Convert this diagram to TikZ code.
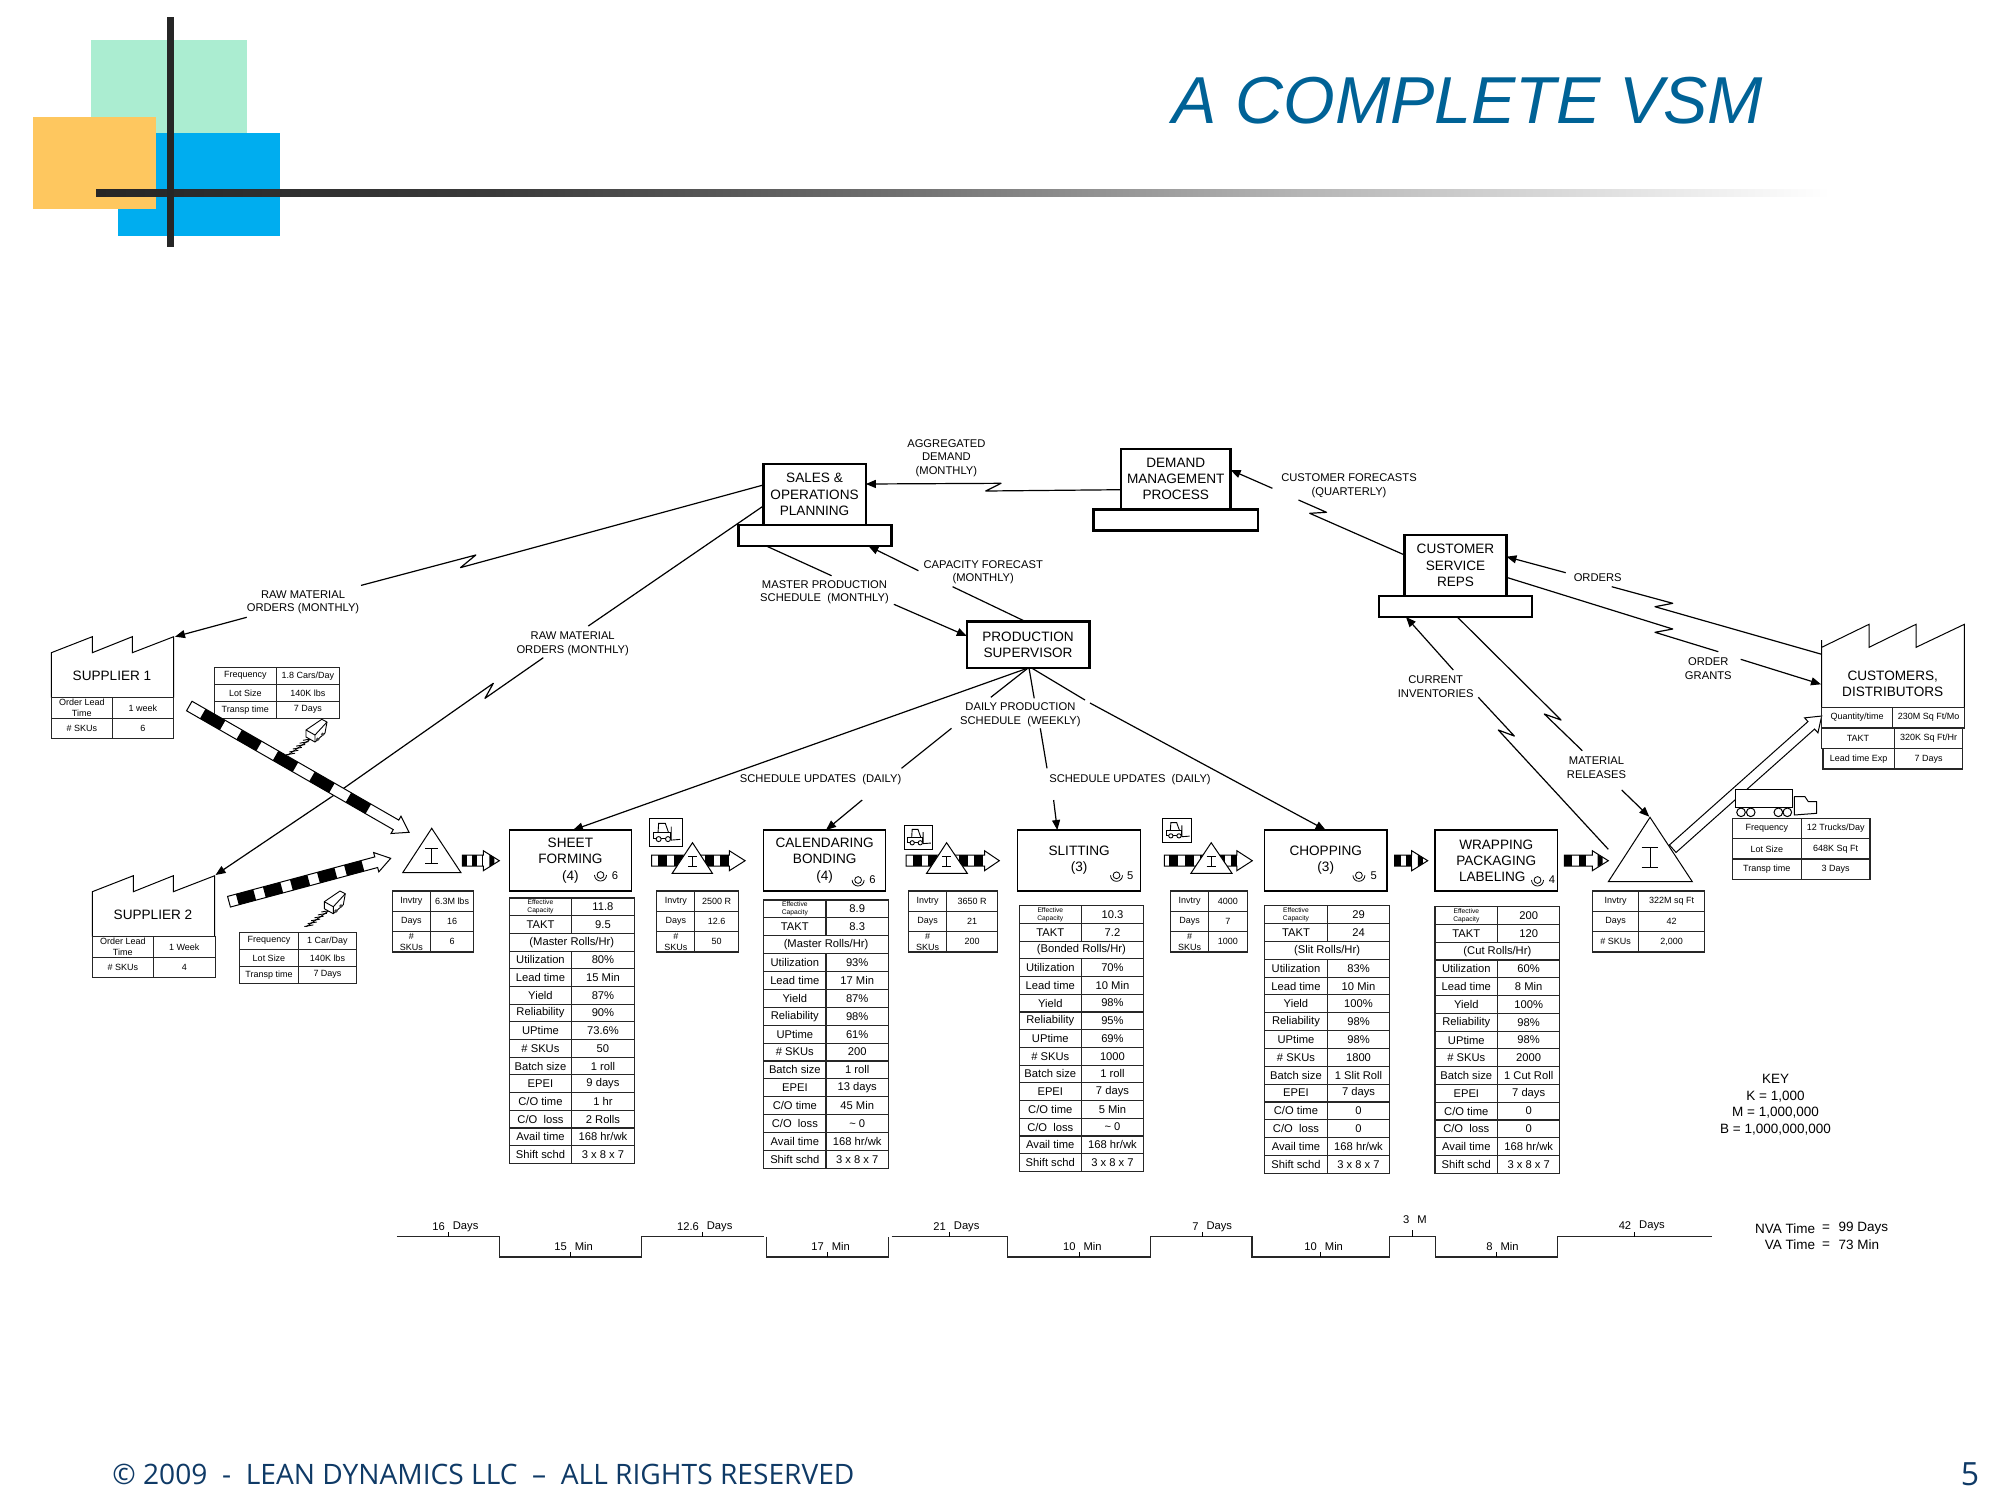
\documentclass[tikz,border=0pt]{standalone}
\usepackage{fontspec}
\setmainfont{Liberation Sans}
\newfontfamily\footfont{Open Sans}
\usetikzlibrary{calc,arrows.meta}
\definecolor{titleblue}{HTML}{006296}
\definecolor{footblue}{HTML}{0F3A66}
\definecolor{mint}{HTML}{ABEDD1}
\definecolor{skyb}{HTML}{00ADEF}
\definecolor{orangey}{HTML}{FEC75F}
\definecolor{bardark}{HTML}{262626}
\pgfdeclarehorizontalshading{barfade}{100bp}{color(0bp)=(bardark);color(25bp)=(bardark);color(36.6bp)=(black!77);color(48.2bp)=(black!56);color(59.7bp)=(black!29);color(75bp)=(white);color(100bp)=(white)}
\newcommand\fL{\fontsize{5.6}{6.8}\selectfont}
\newcommand\fB{\fontsize{6.8}{8.1}\selectfont}
\newcommand\fS{\fontsize{4.5}{5.4}\selectfont}
\newcommand\fE{\fontsize{3.35}{4.15}\selectfont}
\newcommand\fK{\fontsize{6.75}{8.25}\selectfont}
\newcommand\ecap{\fE Effective\\[-2.7pt]\fE Capacity}
\def\mergedflag{-}
\tikzset{
 lnk/.style={line width=.6pt,line join=round},
 lnkA/.style={lnk,-{Triangle[length=5pt,width=4pt]}},
 lab/.style={font=\fL,align=center,inner sep=0pt,outer sep=0pt,yshift=-.7pt},
 labt/.style={font=\fL,align=center,inner sep=0pt,outer sep=0pt},
 boxtxt/.style={font=\fB,align=center,inner sep=0pt,outer sep=0pt},
 infobox/.style={draw,line width=1.2pt,fill=white,boxtxt},
 procbox/.style={draw,line width=.6pt,fill=white,boxtxt},
 tabline/.style={line width=.55pt,black!85},
 celltxt/.style={font=\fL,align=center,inner sep=0pt,outer sep=0pt},
 celltxts/.style={font=\fS,align=center,inner sep=0pt,outer sep=0pt},
 pushline/.style={line width=.5pt,fill=white,line join=miter},
 thin1/.style={line width=.5pt},
 tl/.style={line width=.6pt,black!85}
}
% box node from corners
\newcommand\cornerbox[7]{%
 \node[#2,minimum width={(#5-#3)*0.5pt},minimum height={(#6-#4)*0.5pt}] (#1) at ({(#3+#5)/2},{(#4+#6)/2}) {#7};}
% table: prefix,x0,x1,x2,y0,dy,style,rows
\newcommand\vsmtab[8]{%
 \foreach \va/\vb [count=\nn from 0] in {#8}{%
  \pgfmathsetmacro\ya{#5+\nn*#6}\pgfmathsetmacro\yb{\ya+#6}\pgfmathsetmacro\ym{\ya+#6/2}%
  \draw[tabline] (#2,\ya) rectangle (#4,\yb);%
  \ifx\vb\mergedflag
   \node[#7] (#1-\nn-a) at ({(#2+#4)/2},\ym) {\va};%
  \else
   \draw[tabline] (#3,\ya) -- (#3,\yb);%
   \node[#7] (#1-\nn-a) at ({(#2+#3)/2},\ym) {\va};%
   \node[#7] (#1-\nn-b) at ({(#3+#4)/2},\ym) {\vb};%
  \fi}}
% push arrow
\newcommand\vsmpush[5]{%
 \coordinate (pT) at #1; \coordinate (pH) at #2;
 \coordinate (pB) at ($(pH)!#4!(pT)$);
 \draw[pushline] ($(pT)!#3!90:(pH)$) -- ($(pB)!#3!90:(pH)$) -- ($(pB)!#5!90:(pH)$) -- (pH) -- ($(pB)!#5!-90:(pH)$) -- ($(pB)!#3!-90:(pH)$) -- ($(pT)!#3!-90:(pH)$) -- cycle;}
\newcommand\vsmstripe[5]{% first,end,on,off,half
 \draw[line width=#5*2,dash pattern=on #3 off #4] ($(pT)!#1!(pH)$) -- ($(pT)!#2!(pH)$);}
\newcommand\smallpush[6]{% name,x0,xb,xt,on,off
 \coordinate (#1t) at (#2,860.7); \coordinate (#1h) at (#4,860.7);
 \vsmpush{(#1t)}{(#1h)}{2.75pt}{8pt}{5pt}
 \vsmstripe{0pt}{{(#3-#2)*0.5pt}}{#5}{#6}{2.75pt}
 \fill ({#3+6},{860.7-6.25}) -- ({#3+11},{860.7-3.1}) -- ({#3+11},{860.7+3.1}) -- ({#3+6},{860.7+6.25}) -- cycle;}
\newcommand\invtri[8]{% apexx,apexy,left,right,base,ibar half w,top offset,bottom offset
 \draw[thin1,fill=white,line join=miter] (#1,#2) -- (#4,#5) -- (#3,#5) -- cycle;
 \draw[thin1] ({#1-#6},{#5-#7}) -- ({#1+#6},{#5-#7}) ({#1},{#5-#7}) -- ({#1},{#5-#8}) ({#1-#6},{#5-#8}) -- ({#1+#6},{#5-#8});}
\newcommand\forklift[4]{% x,y,w,h
 \draw[thin1] (#1,#2) rectangle ({#1+#3},{#2+#4});
 \begin{scope}[shift={(#1,#2)},xscale={#3/33.3},yscale={#4/28.3},line width=.45pt]
  \draw (4.3,14.3) rectangle (21,20);
  \draw (8.7,14.3) -- (9.3,5) -- (16,5) -- (19.3,14.3);
  \draw (22,8.3) -- (22,21.7) -- (31,21);
  \draw[fill=white] (9.3,20.7) circle[radius=1.25pt] (18.7,20.7) circle[radius=1.25pt];
 \end{scope}}
\newcommand\trainicon[2]{%
 \begin{scope}[shift={(#1,#2)},line width=.45pt,line join=round]
  \draw (18,45) -- (42,28);
  \foreach \i in {0,...,5}{\draw ({20.5+\i*3.4-4.5},{44-\i*2.9+.8}) -- ({20.5+\i*3.4+4.5},{44-\i*2.9-.8});}
  \draw[fill=white] (36,20) -- (51.7,9.3) -- (57,12) -- (55,23) -- (45,32) -- (36,27) -- cycle;
  \draw (36,20) -- (45,25) -- (57,12) (45,25) -- (45,32);
  \fill[black!75] (47.7,29.3) circle[radius=.9pt] (52.7,24.3) circle[radius=.9pt];
 \end{scope}}
\begin{document}
\begin{tikzpicture}[x=0.5pt,y=-0.5pt]
\useasboundingbox (0,0) rectangle (2000,1500);
\fill[white] (0,0) rectangle (2000,1500);
% logo
\fill[mint] (91.3,40) rectangle (246.7,133);
\fill[skyb] (118.3,132.7) rectangle (280,236);
\fill[orangey] (33.3,116.7) rectangle (156,208.7);
\shade[shading=barfade] (96,189.3) rectangle (1830,196.7);
\fill[bardark] (166.7,16.7) rectangle (173.7,246.7);
\node[inner sep=0pt,font=\fontsize{33.2}{40}\selectfont\itshape,text=titleblue] (title) at (1468,101) {A COMPLETE VSM};
% info boxes
\cornerbox{sopb}{infobox}{738.3}{525}{891.3}{546}{}
\cornerbox{sop}{infobox}{763.3}{464}{865.8}{525}{SALES \&\\OPERATIONS\\PLANNING}
\cornerbox{demb}{infobox}{1093.4}{509.3}{1258.2}{530.3}{}
\cornerbox{dem}{infobox}{1120.9}{448.7}{1230.6}{509.3}{DEMAND\\MANAGEMENT\\PROCESS}
\cornerbox{csb}{infobox}{1379}{595.7}{1532}{617}{}
\cornerbox{cs}{infobox}{1404.6}{535}{1506.4}{595.7}{CUSTOMER\\SERVICE\\REPS}
\cornerbox{ps}{infobox}{966.8}{621.3}{1089.3}{668}{PRODUCTION\\SUPERVISOR}
% process boxes
\cornerbox{sf}{procbox}{509.3}{830}{631.5}{891}{SHEET\\FORMING\\(4)}
\cornerbox{cal}{procbox}{763.7}{830}{885.7}{891}{CALENDARING\\BONDING\\(4)}
\cornerbox{sl}{procbox}{1017.8}{830}{1140.6}{891}{SLITTING\\(3)}
\cornerbox{ch}{procbox}{1264.5}{830}{1387}{891}{CHOPPING\\(3)}
\cornerbox{wr}{procbox}{1435}{830}{1557.5}{891}{WRAPPING\\PACKAGING\\LABELING\hspace*{4pt}}
% factories
\draw[thin1,line join=miter] (51.3,697.7) -- (51.3,652.7) -- (92.3,636.7) -- (92.3,652.7) -- (132.3,636.7) -- (132.3,652.7) -- (173.7,636.7) -- (173.7,697.7);
\coordinate (s1roof) at (175,636.7);
\node[boxtxt] (sup1) at (112,676) {SUPPLIER 1};
\draw[thin1,line join=miter] (92.3,936.7) -- (92.3,891.7) -- (133.3,875.7) -- (133.3,891.7) -- (173.3,875.7) -- (173.3,891.7) -- (214.7,875.7) -- (214.7,936.7);
\coordinate (s2roof) at (215.5,875);
\node[boxtxt] (sup2) at (153,915) {SUPPLIER 2};
\draw[thin1,line join=miter] (1821.7,707.3) -- (1821.7,640) (1821.7,647.3) -- (1869,624.3) -- (1869,647.3) -- (1916,624.3) -- (1916,647.3) -- (1964.3,624.3) -- (1964.3,707.3);
\node[boxtxt] (cust) at (1892.7,683.5) {CUSTOMERS,\\DISTRIBUTORS};
% connector labels
\node[lab] (laggr) at (946.4,456.7) {AGGREGATED\\DEMAND\\(MONTHLY)};
\node[lab] (lcf) at (1349,484.5) {CUSTOMER FORECASTS\\(QUARTERLY)};
\node[lab] (lraw1) at (303,601) {RAW MATERIAL\\ORDERS (MONTHLY)};
\node[lab] (lraw2) at (572.7,642.3) {RAW MATERIAL\\ORDERS (MONTHLY)};
\node[lab] (lmps) at (824.5,591) {MASTER PRODUCTION\\SCHEDULE\ \ (MONTHLY)};
\node[lab] (lcap) at (983.2,571) {CAPACITY FORECAST\\(MONTHLY)};
\node[lab] (ldps) at (1020.4,713.3) {DAILY PRODUCTION\\SCHEDULE\ \ (WEEKLY)};
\node[lab] (lsu1) at (820.6,777.7) {SCHEDULE UPDATES\ \ (DAILY)};
\node[lab] (lsu2) at (1130,777.7) {SCHEDULE UPDATES\ \ (DAILY)};
\node[lab] (lord) at (1597.7,576.7) {ORDERS};
\node[lab] (lgr) at (1708.3,667.3) {ORDER\\GRANTS};
\node[lab] (lci) at (1435.7,685) {CURRENT\\INVENTORIES};
\node[lab] (lmr) at (1596.5,766.5) {MATERIAL\\RELEASES};
% connectors
\draw[lnkA] (dem.west |- 0,489.7) -- (985.7,491) -- (1001,483.3) -- (sop.east |- 0,484);
\draw[lnk] (cs.west |- 0,555) -- (1309.7,513.3) -- (1326.5,512.3) -- (1298.5,500);
\draw[lnkA] (1272.4,488.3) -- (dem.east |- 0,470);
\draw[lnk] (sop.west |- 0,485) -- (460.5,567.6) -- (475.8,555) -- (361,585.4);
\draw[lnkA] (246.7,617.3) -- (s1roof);
\draw[lnk] (sop.west |- 0,506) -- (588.3,626);
\draw[lnk] (543.3,657.7) -- (485,698.3) -- (493.3,683.3) -- (331.7,796.7);
\draw[lnkA] (331.7,796.7) -- (s2roof);
\draw[lnk] (766.3,546) -- (831.6,575.7);
\draw[lnkA] (893.9,604.3) -- (ps.west |- 0,636);
\draw[lnk] (1025,0 |- ps.north) -- (952.6,586.7);
\draw[lnkA] (918.4,570.7) -- (868.4,0 |- sopb.south);
\draw[lnkA] (ps.south) -- (573,0 |- sf.north);
\draw[lnk] (ps.south) -- (990.8,697.3);
\draw[lnk] (951.5,728.3) -- (901.5,768.3);
\draw[lnkA] (862.2,800) -- (826,0 |- cal.north);
\draw[lnk] (1029,0 |- ps.south) -- (1034.2,698.3);
\draw[lnk] (1040.3,728.3) -- (1047,768.3);
\draw[lnkA] (1053.6,800) -- (1057.3,0 |- sl.north);
\draw[lnk] (1031.6,0 |- ps.south) -- (1085,700);
\draw[lnkA] (1090,703) -- (1325.6,0 |- ch.north);
\draw[lnkA] (1453.3,670) -- (1406,0 |- csb.south);
\coordinate (fgr) at (1608.3,849.3);
\draw[lnk] (1478.3,697.3) -- (1514.3,736) -- (1498.3,730) -- (fgr);
\draw[lnk] (1457.3,0 |- csb.south) -- (1561,720) -- (1544.3,714) -- (1582.3,750.7);
\coordinate (fgt) at (1649.3,816.7);
\draw[lnkA] (1621.7,790) -- (fgt);
\coordinate (orderA) at (1821.7,654.3);
\draw[lnk] (orderA) -- (1655,606.7) -- (1672.7,603.3) -- (1611.7,586.7);
\draw[lnkA] (1565.7,572.7) -- (cs.east |- 0,556.7);
\draw[lnk] (cs.east |- 0,577.3) -- (1672.7,629) -- (1655,632.3) -- (1718.3,651.7);
\draw[lnkA] (1740.7,659.3) -- (1821,684.3);
% timeline
\draw[tl] (396.8,1236.7) -- (499.4,1236.7) -- (499.4,1257) -- (641.7,1257) -- (641.7,1236.7) -- (764.2,1236.7);
\draw[tl] (766.7,1236.7) -- (766.7,1257) -- (888.7,1257) -- (888.7,1236.7);
\draw[tl] (891.7,1236.7) -- (1007.6,1236.7) -- (1007.6,1257) -- (1150.4,1257) -- (1150.4,1236.7) -- (1252,1236.7) -- (1252,1257) -- (1389.3,1257) -- (1389.3,1236.7) -- (1435.2,1236.7) -- (1435.2,1257) -- (1557.1,1257) -- (1557.1,1236.7) -- (1712.2,1236.7);
\foreach \x in {448.4,702.4,949.4,1202,1634.7}{\draw[thin1] (\x,1236.7) -- (\x,1231.5);}
\draw[thin1] (1412.8,1236.7) -- (1412.8,1230);
\foreach \x in {570.3,827.4,1079,1320.4,1496}{\draw[thin1] (\x,1257) -- (\x,1252);}
\foreach \x/\v/\u/\y [count=\k] in {448.4/16/Days/1226.7,702.4/12.6/Days/1226.7,949.4/21/Days/1226.7,1202/7/Days/1226.7,1634.7/42/Days/1225.7,1412.8/3/M/1220,570.3/15/Min/1246.7,827.4/17/Min/1246.7,1079/10/Min/1246.7,1320.4/10/Min/1246.7,1496/8/Min/1246.7}{
 \node[labt,anchor=east] (tv\k) at ({\x-3.5},\y) {\v};
 \node[labt,anchor=west] (tu\k) at ({\x+4.5},\y) {\u};
}
\node[boxtxt,font=\fK,anchor=east] (nvaL) at (1815,1228.3) {NVA Time};
\node[boxtxt,font=\fK] (nvaE) at (1826,1228.3) {=};
\node[boxtxt,font=\fK,anchor=west] (nvaR) at (1838.5,1228.3) {99 Days};
\node[boxtxt,font=\fK,anchor=east] (vaL) at (1815,1245) {VA Time};
\node[boxtxt,font=\fK] (vaE) at (1826,1245) {=};
\node[boxtxt,font=\fK,anchor=west] (vaR) at (1838.5,1245) {73 Min};
\node[boxtxt,font=\fK] (key) at (1775.5,1104.5) {KEY\\K = 1,000\\M = 1,000,000\\B = 1,000,000,000};
% supplier tables
\vsmtab{st1}{51.3}{112.3}{173.7}{697.7}{20.5}{celltxts}{{Order Lead\\Time}/1 week,\# SKUs/6}
\vsmtab{st2}{92.3}{153.3}{215.3}{936.7}{20.5}{celltxts}{{Order Lead\\Time}/1 Week,\# SKUs/4}
\vsmtab{tt1}{214.3}{276.3}{339.3}{667.3}{17}{celltxts}{Frequency/{1.8 Cars/Day},Lot Size/140K lbs,Transp time/7 Days}
\vsmtab{tt2}{239.7}{298.3}{356.7}{932.3}{17}{celltxts}{Frequency/{1 Car/Day},Lot Size/140K lbs,Transp time/7 Days}
% trains
\trainicon{270}{710}
\trainicon{288.3}{881.7}
% supplier arrows
\coordinate (a1t) at (189.3,706); \coordinate (a1h) at (409,832.3);
\vsmpush{(a1t)}{(a1h)}{2.75pt}{7.5pt}{5pt}
\vsmstripe{7.75pt}{103.5pt}{11.5pt}{9.5pt}{2.75pt}
\coordinate (a2t) at (229,901.7); \coordinate (a2h) at (390.7,858.3);
\vsmpush{(a2t)}{(a2h)}{2.75pt}{7.5pt}{5pt}
\vsmstripe{4.3pt}{69.3pt}{9pt}{5pt}{2.75pt}
% process flow arrows
\coordinate (a3t) at (651.7,860.7); \coordinate (a3h) at (745.1,860.7);
\vsmpush{(a3t)}{(a3h)}{2.75pt}{7.9pt}{5pt}
\vsmstripe{3.3pt}{38.8pt}{4.5pt}{3.2pt}{2.75pt}
\coordinate (a4t) at (906,860.7); \coordinate (a4h) at (999.3,860.7);
\vsmpush{(a4t)}{(a4h)}{2.75pt}{7.4pt}{5pt}
\vsmstripe{3.3pt}{39.2pt}{4.5pt}{3.2pt}{2.75pt}
\coordinate (a5t) at (1164.3,860.7); \coordinate (a5h) at (1252.3,860.7);
\vsmpush{(a5t)}{(a5h)}{2.75pt}{7.75pt}{5pt}
\vsmstripe{2.5pt}{36.2pt}{4.5pt}{3.2pt}{2.75pt}
\smallpush{a6}{462.3}{483.3}{499.3}{2.5pt}{2.5pt}
\smallpush{a7}{1394.7}{1411.8}{1427.7}{3pt}{2.5pt}
\smallpush{a8}{1564.3}{1591.7}{1608.3}{3.75pt}{3.5pt}
% shipping arrow
\coordinate (a9t) at (1672.7,848.7); \coordinate (a9h) at (1821.7,716);
\vsmpush{(a9t)}{(a9h)}{2.5pt}{7pt}{5pt}
% inventory triangles
\invtri{431.7}{828.3}{402.7}{461}{872.7}{6.3}{24.4}{9.4}
\invtri{692.5}{842.7}{672.2}{712.4}{873.3}{4.5}{16.6}{6.6}
\invtri{946.6}{842.7}{926.6}{967.3}{873.3}{4.5}{16.6}{6.6}
\invtri{1211.2}{842.7}{1190.9}{1232}{873.3}{4.5}{16.6}{6.6}
\invtri{1650}{817.3}{1608.3}{1692.3}{881.7}{8.3}{34.4}{14.4}
% forklifts
\forklift{649.4}{818.3}{33.1}{28.4}
\forklift{904.2}{825}{28.6}{24.3}
\forklift{1162.8}{818.3}{28.8}{24}
% truck
\draw[thin1,fill=white] (1735,789.3) rectangle (1792.7,807.7);
\draw[thin1,fill=white,line join=round] (1794.3,815) -- (1794.3,796.7) -- (1805,796.7) -- (1808.3,801.7) -- (1816.7,801.7) -- (1816.7,813.3) -- cycle;
\draw[thin1,fill=white] (1741,812.3) circle[radius=2.15pt] (1750.7,812.3) circle[radius=2.15pt] (1778.3,812.3) circle[radius=2.15pt] (1787.3,812.3) circle[radius=2.15pt];
% inventory tables
\vsmtab{it1}{392.3}{430.3}{473.7}{891}{20.33}{celltxts}{Invtry/6.3M lbs,Days/16,{\#\\SKUs}/6}
\vsmtab{it2}{656.7}{694.9}{738.3}{891}{20.33}{celltxts}{Invtry/2500 R,Days/12.6,{\#\\SKUs}/50}
\vsmtab{it3}{908.7}{946.6}{997.6}{891}{20.33}{celltxts}{Invtry/3650 R,Days/21,{\#\\SKUs}/200}
\vsmtab{it4}{1170.5}{1208.7}{1247.1}{891}{20.33}{celltxts}{Invtry/4000,Days/7,{\#\\SKUs}/1000}
\vsmtab{it5}{1592.7}{1638.3}{1704.7}{891}{20.33}{celltxts}{Invtry/322M sq Ft,Days/42,\# SKUs/{2,000}}
% truck table, customer table
\vsmtab{trt}{1732.3}{1801.3}{1870}{818.3}{20.33}{celltxts}{Frequency/{12 Trucks/Day},Lot Size/648K Sq Ft,Transp time/3 Days}
\vsmtab{cua}{1821.7}{1892.7}{1964.3}{707.3}{20.7}{celltxts}{{Quantity/time}/{230M Sq Ft/Mo}}
\vsmtab{cub}{1821.7}{1894.3}{1962.7}{728}{20.7}{celltxts}{TAKT/{320K Sq Ft/Hr}}
\vsmtab{cuc}{1823}{1894.3}{1962.7}{748.7}{20.3}{celltxts}{Lead time Exp/7 Days}
% process tables
\vsmtab{pt1}{509.3}{571.6}{634.3}{898}{17.69}{celltxt}{{\ecap}/{11.8},TAKT/9.5,{(Master Rolls/Hr)}/-,Utilization/80\%,{Lead time}/{15 Min},Yield/87\%,Reliability/90\%,UPtime/73.6\%,{\# SKUs}/50,{Batch size}/{1 roll},EPEI/{9 days},{C/O time}/{1 hr},{C/O\ \ loss}/{2 Rolls},{Avail time}/{168 hr/wk},{Shift schd}/{3 x 8 x 7}}
\vsmtab{pt2}{763.7}{826}{888.4}{900}{17.89}{celltxt}{{\ecap}/{8.9},TAKT/8.3,{(Master Rolls/Hr)}/-,Utilization/93\%,{Lead time}/{17 Min},Yield/87\%,Reliability/98\%,UPtime/61\%,{\# SKUs}/200,{Batch size}/{1 roll},EPEI/{13 days},{C/O time}/{45 Min},{C/O\ \ loss}/{\textasciitilde\ 0},{Avail time}/{168 hr/wk},{Shift schd}/{3 x 8 x 7}}
\vsmtab{pt3}{1019.2}{1081.4}{1143.5}{905.7}{17.71}{celltxt}{{\ecap}/{10.3},TAKT/7.2,{(Bonded Rolls/Hr)}/-,Utilization/70\%,{Lead time}/{10 Min},Yield/98\%,Reliability/95\%,UPtime/69\%,{\# SKUs}/1000,{Batch size}/{1 roll},EPEI/{7 days},{C/O time}/{5 Min},{C/O\ \ loss}/{\textasciitilde\ 0},{Avail time}/{168 hr/wk},{Shift schd}/{3 x 8 x 7}}
\vsmtab{pt4}{1264.5}{1327.4}{1389.6}{905.7}{17.84}{celltxt}{{\ecap}/{29},TAKT/24,{(Slit Rolls/Hr)}/-,Utilization/83\%,{Lead time}/{10 Min},Yield/100\%,Reliability/98\%,UPtime/98\%,{\# SKUs}/1800,{Batch size}/{1 Slit Roll},EPEI/{7 days},{C/O time}/0,{C/O\ \ loss}/0,{Avail time}/{168 hr/wk},{Shift schd}/{3 x 8 x 7}}
\vsmtab{pt5}{1435}{1497.6}{1559.7}{906.7}{17.77}{celltxt}{{\ecap}/{200},TAKT/120,{(Cut Rolls/Hr)}/-,Utilization/60\%,{Lead time}/{8 Min},Yield/100\%,Reliability/98\%,UPtime/98\%,{\# SKUs}/2000,{Batch size}/{1 Cut Roll},EPEI/{7 days},{C/O time}/0,{C/O\ \ loss}/0,{Avail time}/{168 hr/wk},{Shift schd}/{3 x 8 x 7}}
% operator icons
\draw[line width=.4pt] (600.5,875) circle[radius=1.7pt]; \draw[line width=.4pt] (594.5,875) arc[start angle=180,end angle=360,radius=3pt];
\node[labt] (op1) at (615,875.3) {6};
\draw[line width=.4pt] (858.1,880) circle[radius=1.7pt]; \draw[line width=.4pt] (852.1,880) arc[start angle=180,end angle=360,radius=3pt];
\node[labt] (op2) at (872.6,880) {6};
\draw[line width=.4pt] (1116.5,875.3) circle[radius=1.7pt]; \draw[line width=.4pt] (1110.5,875.3) arc[start angle=180,end angle=360,radius=3pt];
\node[labt] (op3) at (1130.2,875.3) {5};
\draw[line width=.4pt] (1358.9,875.3) circle[radius=1.7pt]; \draw[line width=.4pt] (1352.9,875.3) arc[start angle=180,end angle=360,radius=3pt];
\node[labt] (op4) at (1373.7,875.3) {5};
\draw[line width=.4pt] (1537.5,880) circle[radius=1.7pt]; \draw[line width=.4pt] (1531.5,880) arc[start angle=180,end angle=360,radius=3pt];
\node[labt] (op5) at (1552,880) {4};
% footer
\node[anchor=west,inner sep=0pt,font=\footfont\fontsize{14.07}{16}\selectfont,text=footblue] (foot) at (112,1474.5) {© 2009\ \ -\ \ LEAN DYNAMICS LLC\ \ –\ \ ALL RIGHTS RESERVED};
\node[inner sep=0pt,font=\footfont\fontsize{16}{18}\selectfont,text=footblue] (pageno) at (1970,1474) {5};
\end{tikzpicture}
\end{document}
